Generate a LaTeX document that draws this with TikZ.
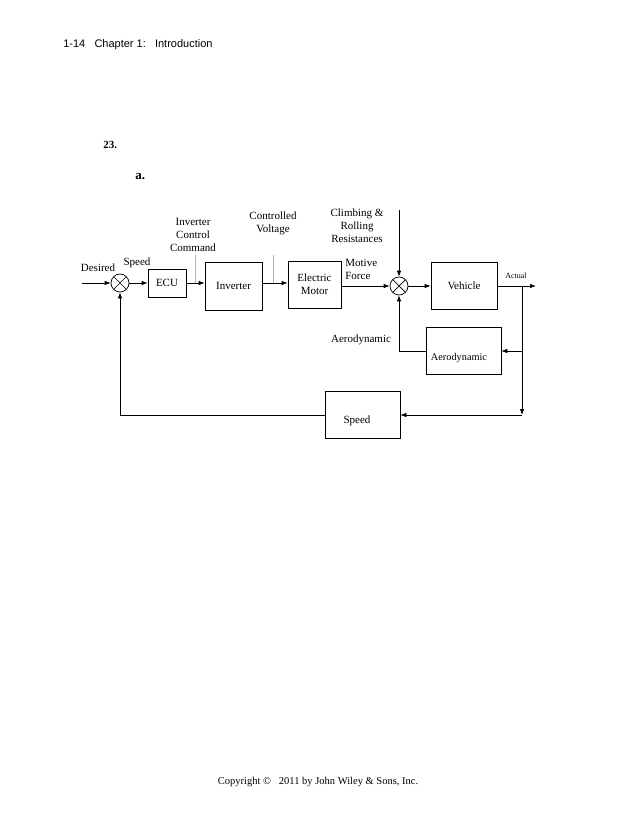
\documentclass[tikz,border=0pt]{standalone}
\usepackage{fontspec}
\setmainfont{Liberation Serif}
\newfontfamily\headfont{Liberation Sans}
\usetikzlibrary{arrows.meta}

\begin{document}
\begin{tikzpicture}[x=1pt,y=-1pt,line width=.7pt,
  blk/.style={draw,rectangle,inner sep=0pt,align=center,font=\fontsize{11}{13}\selectfont},
  sumj/.style={draw,circle,minimum size=18pt,inner sep=0pt,
    path picture={\draw (path picture bounding box.north west) -- (path picture bounding box.south east)
      (path picture bounding box.south west) -- (path picture bounding box.north east);}},
  lbl/.style={inner sep=0pt,align=center,font=\fontsize{11}{13}\selectfont},
  arr/.style={-{Latex[length=6pt,width=4.5pt]}},
  tick/.style={draw=gray!60,line width=.4pt}]
\path[use as bounding box] (0,0) rectangle (638,826);
\node[anchor=base west,inner sep=0pt,font=\headfont\fontsize{11}{13}\selectfont] (head) at (63,48) {1-14\ \ \ Chapter 1:\ \ \ Introduction};
\node[anchor=base west,inner sep=0pt,font=\bfseries\fontsize{11}{13}\selectfont] (prob) at (103,149) {23.};
\node[anchor=base west,inner sep=0pt,font=\bfseries\fontsize{13}{15}\selectfont] (part) at (135,180) {a.};
% blocks
\node[sumj] (s1) at (120,283) {};
\node[blk,minimum width=38pt,minimum height=28pt] (ecu) at (167,283) {ECU};
\node[blk,minimum width=57pt,minimum height=48pt] (inv) at (233.5,286) {Inverter};
\node[blk,minimum width=53pt,minimum height=47pt] (mot) at (314.5,284.5) {Electric\\Motor};
\node[sumj] (s2) at (399,286) {};
\node[blk,minimum width=66pt,minimum height=47pt] (veh) at (464,286) {Vehicle};
\node[blk,minimum width=75pt,minimum height=47pt,font=\fontsize{10.3}{12}\selectfont] (aero) at (463.5,351)
  {\raisebox{-9.5pt}[0pt][0pt]{\makebox[0pt][c]{Aerodynamic\hspace{9pt}}}};
\node[blk,minimum width=75pt,minimum height=47pt] (spd) at (362.5,415)
  {\raisebox{-8.5pt}[0pt][0pt]{\makebox[0pt][c]{Speed\hspace{11pt}}}};
% labels
\node[lbl] (desl) at (98,268) {Desired};
\node[lbl] (spdl) at (137,263) {Speed};
\node[lbl] (iccl) at (193,235) {Inverter\\Control\\Command};
\node[lbl] (cvl) at (273,223.5) {Controlled\\Voltage};
\node[lbl] (crrl) at (357,226) {Climbing \&\\Rolling\\Resistances};
\node[lbl,align=left,anchor=west] (mfl) at (345,269.5) {Motive\\Force};
\node[lbl] (aerol) at (361,340) {Aerodynamic};
\node[lbl,font=\fontsize{8}{10}\selectfont] (actl) at (516,276) {Actual};
% free ends
\coordinate (in) at (82,283);
\coordinate (dist) at (399,210);
\coordinate (out) at (536,286);
\coordinate (br) at (522,286);
\coordinate (fb) at (522,415);
\coordinate (t1) at (195,255);
\coordinate (t2) at (273,255);
% connectors
\draw[arr] (in) -- (s1);
\draw[arr] (s1) -- (ecu);
\draw[arr] (ecu.east) -- (ecu.east -| inv.west);
\draw[arr] (inv.east |- ecu) -- (inv.east |- ecu -| mot.west);
\draw[arr] (mot.east |- s2) -- (s2);
\draw[arr] (dist) -- (s2);
\draw[arr] (s2) -- (veh);
\draw[arr] (veh) -- (out);
\draw[arr] (br) -- (fb);
\draw[arr] (br |- aero) -- (aero);
\draw[arr] (aero.west) -| (s2.south);
\draw[arr] (fb) -- (spd);
\draw[arr] (spd.west) -| (s1.south);
\draw[tick] (t1) -- (t1 |- ecu);
\draw[tick] (t2) -- (t2 |- ecu);
\node[inner sep=0pt,font=\fontsize{10.5}{12}\selectfont] (copy) at (318,782) {Copyright \textcopyright\ \ \ 2011 by John Wiley \& Sons, Inc.};
\end{tikzpicture}
\end{document}
